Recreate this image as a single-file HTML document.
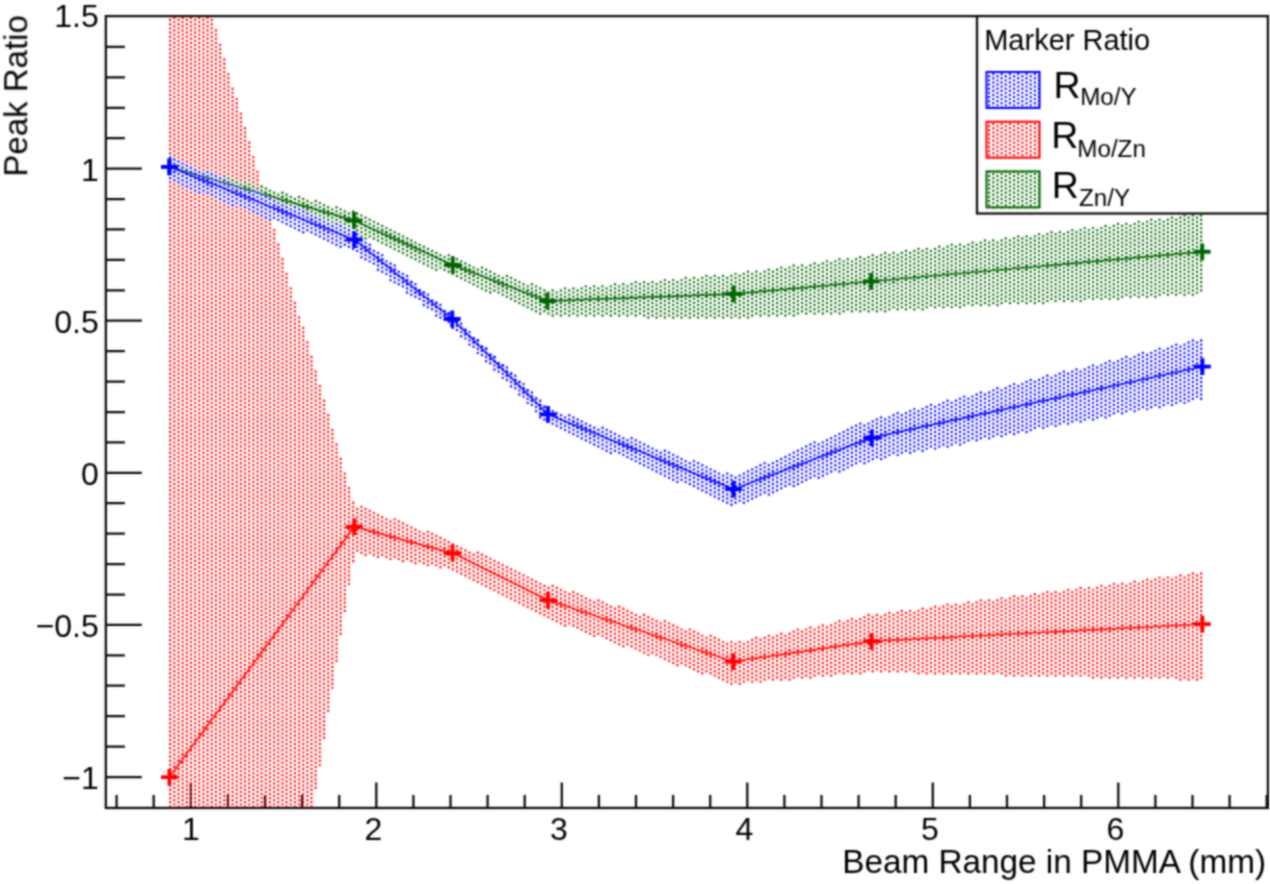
<!DOCTYPE html>
<html><head><meta charset="utf-8"><title>Peak Ratio vs Beam Range in PMMA</title>
<style>
html,body{margin:0;padding:0;background:#fff;}
svg{display:block;font-family:"Liberation Sans",Arial,Helvetica,sans-serif;}
</style></head><body>
<svg width="1270" height="884" viewBox="0 0 1270 884">
<defs>
<clipPath id="clip"><rect x="104.85" y="15.100000000000001" width="1164.0500000000002" height="793.85"/></clipPath>
<filter id="soft" filterUnits="userSpaceOnUse" x="0" y="0" width="1270" height="884" color-interpolation-filters="sRGB"><feConvolveMatrix order="5" kernelMatrix="0.00107 0.00777 0.01504 0.00777 0.00107 0.00777 0.05638 0.10914 0.05638 0.00777 0.01504 0.10914 0.21130 0.10914 0.01504 0.00777 0.05638 0.10914 0.05638 0.00777 0.00107 0.00777 0.01504 0.00777 0.00107" edgeMode="duplicate" preserveAlpha="false"/></filter>
</defs>
<rect width="1270" height="884" fill="#fff"/>
<g filter="url(#soft)">
<g stroke="#0a0a0a" stroke-width="2.25" fill="none">
<rect x="105.85" y="16.1" width="1162.0500000000002" height="791.85"/>
<path d="M116.6,807.95v-13M153.7,807.95v-13M190.8,807.95v-25.5M227.9,807.95v-13M265.0,807.95v-13M302.1,807.95v-13M339.2,807.95v-13M376.3,807.95v-25.5M413.4,807.95v-13M450.5,807.95v-13M487.6,807.95v-13M524.7,807.95v-13M561.8,807.95v-25.5M598.9,807.95v-13M636.0,807.95v-13M673.1,807.95v-13M710.2,807.95v-13M747.3,807.95v-25.5M784.4,807.95v-13M821.5,807.95v-13M858.6,807.95v-13M895.7,807.95v-13M932.8,807.95v-25.5M969.9,807.95v-13M1007.0,807.95v-13M1044.1,807.95v-13M1081.2,807.95v-13M1118.3,807.95v-25.5M1155.4,807.95v-13M1192.5,807.95v-13M1229.6,807.95v-13M1266.7,807.95v-13"/><path d="M105.85,777.0h36M105.85,746.6h19M105.85,716.2h19M105.85,685.7h19M105.85,655.3h19M105.85,624.9h36M105.85,594.5h19M105.85,564.1h19M105.85,533.6h19M105.85,503.2h19M105.85,472.8h36M105.85,442.4h19M105.85,412.0h19M105.85,381.5h19M105.85,351.1h19M105.85,320.7h36M105.85,290.3h19M105.85,259.9h19M105.85,229.4h19M105.85,199.0h19M105.85,168.6h36M105.85,138.2h19M105.85,107.8h19M105.85,77.3h19M105.85,46.9h19"/></g>
<g clip-path="url(#clip)">
<path d="M170.18,20.04v786.43M174.34,17.96v786.43M178.50,20.04v786.43M182.65,17.96v786.43M186.81,20.04v786.43M190.97,17.96v786.43M195.13,20.04v786.43M199.28,17.96v786.43M203.44,20.04v786.43M207.60,17.96v786.43M211.75,20.04v786.43M215.91,30.44v773.95M220.07,45.00v761.46M224.23,59.57v744.82M228.38,74.13v732.34M232.54,88.69v715.69M236.70,99.09v707.37M240.85,113.66v690.73M245.01,128.22v678.25M249.17,142.78v661.60M253.33,157.35v649.12M257.48,171.91v632.48M261.64,186.47v619.99M265.80,201.04v603.35M269.95,215.60v590.87M274.11,230.16v574.22M278.27,244.73v561.74M282.42,259.29v545.10M286.58,273.85v532.62M290.74,288.42v515.97M294.90,302.98v503.49M299.05,317.54v486.85M303.21,327.94v478.52M307.37,342.51v461.88M311.52,357.07v449.40M315.68,371.63v416.11M319.84,386.20v378.66M324.00,400.76v337.05M328.15,415.32v295.44M332.31,429.89v258.00M336.47,444.45v216.39M340.62,459.01v174.78M344.78,473.58v137.33M348.94,488.14v95.72M353.10,502.70v58.27M357.25,508.94v41.63M361.41,506.86v45.79M365.57,508.94v45.79M369.72,511.02v41.63M373.88,513.10v41.63M378.04,515.18v41.63M382.20,517.26v37.47M386.35,519.35v37.47M390.51,521.43v37.47M394.67,519.35v37.47M398.82,521.43v37.47M402.98,523.51v37.47M407.14,525.59v33.31M411.30,527.67v33.31M415.45,529.75v33.31M419.61,531.83v29.15M423.77,533.91v29.15M427.92,531.83v33.31M432.08,533.91v29.15M436.24,535.99v29.15M440.39,538.07v29.15M444.55,540.15v24.99M448.71,542.23v24.99M452.87,544.31v24.99M457.02,546.39v24.99M461.18,548.47v24.99M465.34,550.55v24.99M469.49,552.63v24.99M473.65,554.71v24.99M477.81,552.63v29.15M481.97,554.71v29.15M486.12,556.79v29.15M490.28,558.87v29.15M494.44,560.95v29.15M498.59,563.03v29.15M502.75,565.12v29.15M506.91,567.20v29.15M511.07,569.28v29.15M515.22,571.36v29.15M519.38,573.44v29.15M523.54,575.52v29.15M527.69,577.60v29.15M531.85,579.68v29.15M536.01,581.76v29.15M540.17,583.84v29.15M544.32,585.92v29.15M548.48,588.00v29.15M552.64,585.92v33.31M556.79,588.00v33.31M560.95,590.08v33.31M565.11,592.16v33.31M569.26,594.24v29.15M573.42,592.16v33.31M577.58,594.24v33.31M581.74,596.32v33.31M585.89,598.40v33.31M590.05,600.48v33.31M594.21,602.56v33.31M598.36,600.48v33.31M602.52,602.56v33.31M606.68,604.64v33.31M610.84,606.72v33.31M614.99,608.80v33.31M619.15,606.72v37.47M623.31,608.80v37.47M627.46,610.88v33.31M631.62,612.97v33.31M635.78,615.05v33.31M639.94,617.13v33.31M644.09,615.05v37.47M648.25,617.13v37.47M652.41,619.21v33.31M656.56,621.29v33.31M660.72,623.37v33.31M664.88,621.29v37.47M669.04,623.37v37.47M673.19,625.45v37.47M677.35,627.53v37.47M681.51,629.61v33.31M685.66,631.69v33.31M689.82,629.61v37.47M693.98,631.69v37.47M698.13,633.77v37.47M702.29,635.85v37.47M706.45,637.93v33.31M710.61,635.85v37.47M714.76,637.93v37.47M718.92,640.01v37.47M723.08,642.09v37.47M727.23,644.17v37.47M731.39,642.09v41.63M735.55,644.17v37.47M739.71,642.09v41.63M743.86,644.17v37.47M748.02,642.09v37.47M752.18,640.01v41.63M756.33,637.93v41.63M760.49,640.01v41.63M764.65,637.93v41.63M768.81,635.85v41.63M772.96,637.93v41.63M777.12,635.85v41.63M781.28,633.77v45.79M785.43,635.85v41.63M789.59,633.77v45.79M793.75,631.69v45.79M797.91,629.61v45.79M802.06,631.69v45.79M806.22,629.61v45.79M810.38,627.53v49.95M814.53,629.61v45.79M818.69,627.53v45.79M822.85,625.45v49.95M827.00,627.53v45.79M831.16,625.45v49.95M835.32,623.37v49.95M839.48,621.29v49.95M843.63,623.37v49.95M847.79,621.29v49.95M851.95,619.21v54.11M856.10,621.29v49.95M860.26,619.21v54.11M864.42,617.13v54.11M868.58,615.05v54.11M872.73,617.13v54.11M876.89,615.05v54.11M881.05,617.13v54.11M885.20,615.05v54.11M889.36,612.97v58.27M893.52,615.05v54.11M897.68,612.97v58.27M901.83,610.88v58.27M905.99,612.97v58.27M910.15,610.88v58.27M914.30,612.97v58.27M918.46,610.88v62.43M922.62,608.80v62.43M926.78,610.88v62.43M930.93,608.80v62.43M935.09,606.72v66.59M939.25,608.80v62.43M943.40,606.72v66.59M947.56,604.64v66.59M951.72,606.72v66.59M955.88,604.64v66.59M960.03,606.72v66.59M964.19,604.64v66.59M968.35,602.56v70.76M972.50,604.64v66.59M976.66,602.56v70.76M980.82,600.48v70.76M984.97,602.56v70.76M989.13,600.48v70.76M993.29,602.56v70.76M997.45,600.48v70.76M1001.60,598.40v74.92M1005.76,600.48v74.92M1009.92,598.40v74.92M1014.07,596.32v79.08M1018.23,598.40v74.92M1022.39,596.32v79.08M1026.55,598.40v74.92M1030.70,596.32v79.08M1034.86,594.24v79.08M1039.02,596.32v79.08M1043.17,594.24v79.08M1047.33,592.16v83.24M1051.49,594.24v79.08M1055.65,592.16v83.24M1059.80,594.24v79.08M1063.96,592.16v83.24M1068.12,590.08v83.24M1072.27,592.16v83.24M1076.43,590.08v83.24M1080.59,588.00v87.40M1084.75,590.08v83.24M1088.90,588.00v87.40M1093.06,590.08v87.40M1097.22,588.00v87.40M1101.37,585.92v91.56M1105.53,588.00v87.40M1109.69,585.92v91.56M1113.84,583.84v91.56M1118.00,585.92v91.56M1122.16,583.84v91.56M1126.32,585.92v91.56M1130.47,583.84v91.56M1134.63,581.76v95.72M1138.79,583.84v91.56M1142.94,581.76v95.72M1147.10,579.68v95.72M1151.26,581.76v95.72M1155.42,579.68v95.72M1159.57,577.60v99.88M1163.73,579.68v95.72M1167.89,577.60v99.88M1172.04,579.68v95.72M1176.20,577.60v99.88M1180.36,575.52v104.04M1184.52,577.60v99.88M1188.67,575.52v104.04M1192.83,573.44v104.04M1196.99,575.52v104.04M1201.14,573.44v104.04" fill="none" stroke="#ff0000" stroke-width="2.4" stroke-linecap="round" stroke-dasharray="0 4.1609"/>
<path d="M170.18,773.16v4.18M174.34,766.92v8.34M178.50,760.68v8.34M182.65,754.44v8.34M186.81,752.36v4.18M190.97,746.11v4.18M195.13,739.87v4.18M199.28,733.63v4.18M203.44,727.39v8.34M207.60,721.15v8.34M211.75,714.91v8.34M215.91,712.83v4.18M220.07,706.59v4.18M224.23,700.34v4.18M228.38,694.10v4.18M232.54,687.86v8.34M236.70,681.62v8.34M240.85,679.54v4.18M245.01,673.30v4.18M249.17,667.06v4.18M253.33,660.82v4.18M257.48,654.57v4.18M261.64,648.33v8.34M265.80,642.09v8.34M269.95,640.01v4.18M274.11,633.77v4.18M278.27,627.53v4.18M282.42,621.29v4.18M286.58,615.05v4.18M290.74,608.80v8.34M294.90,602.56v8.34M299.05,600.48v4.18M303.21,594.24v4.18M307.37,588.00v4.18M311.52,581.76v4.18M315.68,575.52v8.34M319.84,569.28v8.34M324.00,563.03v8.34M328.15,560.95v4.18M332.31,554.71v4.18M336.47,548.47v4.18M340.62,542.23v4.18M344.78,535.99v8.34M348.94,529.75v8.34M353.10,523.51v8.34M357.25,525.59v4.18M361.41,527.67v0.02M365.57,529.75v0.02M369.72,531.83v0.02M373.88,529.75v4.18M378.04,531.83v4.18M382.20,533.91v0.02M386.35,535.99v0.02M390.51,533.91v4.18M394.67,535.99v4.18M398.82,538.07v0.02M402.98,540.15v0.02M407.14,538.07v4.18M411.30,540.15v4.18M415.45,542.23v0.02M419.61,544.31v0.02M423.77,546.39v0.02M427.92,544.31v4.18M432.08,546.39v4.18M436.24,548.47v0.02M440.39,550.55v0.02M444.55,548.47v4.18M448.71,550.55v4.18M452.87,552.63v0.02M457.02,554.71v0.02M461.18,556.79v0.02M465.34,558.87v0.02M469.49,560.95v0.02M473.65,563.03v0.02M477.81,565.12v0.02M481.97,567.20v0.02M486.12,569.28v0.02M490.28,571.36v0.02M494.44,573.44v0.02M498.59,575.52v0.02M502.75,577.60v0.02M506.91,579.68v0.02M511.07,581.76v0.02M515.22,583.84v0.02M519.38,585.92v0.02M523.54,588.00v0.02M527.69,590.08v0.02M531.85,592.16v0.02M536.01,594.24v0.02M540.17,596.32v0.02M544.32,598.40v0.02M548.48,600.48v0.02M552.64,602.56v0.02M556.79,600.48v4.18M560.95,602.56v4.18M565.11,604.64v4.18M569.26,606.72v0.02M573.42,608.80v0.02M577.58,610.88v0.02M581.74,608.80v4.18M585.89,610.88v4.18M590.05,612.97v0.02M594.21,615.05v0.02M598.36,617.13v0.02M602.52,619.21v0.02M606.68,617.13v4.18M610.84,619.21v4.18M614.99,621.29v0.02M619.15,623.37v0.02M623.31,625.45v0.02M627.46,627.53v0.02M631.62,625.45v4.18M635.78,627.53v4.18M639.94,629.61v0.02M644.09,631.69v0.02M648.25,633.77v0.02M652.41,635.85v0.02M656.56,633.77v4.18M660.72,635.85v4.18M664.88,637.93v0.02M669.04,640.01v0.02M673.19,642.09v0.02M677.35,640.01v4.18M681.51,642.09v4.18M685.66,644.17v4.18M689.82,646.25v0.02M693.98,648.33v0.02M698.13,650.41v0.02M702.29,648.33v4.18M706.45,650.41v4.18M710.61,652.49v4.18M714.76,654.57v0.02M718.92,656.65v0.02M723.08,658.74v0.02M727.23,656.65v4.18M731.39,658.74v4.18M735.55,660.82v0.02M739.71,658.74v4.18M743.86,660.82v0.02M748.02,658.74v0.02M752.18,656.65v4.18M756.33,658.74v0.02M760.49,656.65v0.02M764.65,654.57v4.18M768.81,656.65v0.02M772.96,654.57v0.02M777.12,652.49v4.18M781.28,654.57v0.02M785.43,652.49v4.18M789.59,650.41v4.18M793.75,652.49v0.02M797.91,650.41v4.18M802.06,652.49v0.02M806.22,650.41v0.02M810.38,648.33v4.18M814.53,650.41v0.02M818.69,648.33v0.02M822.85,646.25v4.18M827.00,648.33v0.02M831.16,646.25v0.02M835.32,644.17v4.18M839.48,646.25v0.02M843.63,644.17v0.02M847.79,642.09v4.18M851.95,644.17v0.02M856.10,642.09v4.18M860.26,644.17v0.02M864.42,642.09v0.02M868.58,640.01v4.18M872.73,642.09v0.02M876.89,640.01v0.02M881.05,637.93v4.18M885.20,640.01v0.02M889.36,637.93v4.18M893.52,640.01v0.02M897.68,637.93v4.18M901.83,640.01v0.02M905.99,637.93v4.18M910.15,640.01v0.02M914.30,637.93v0.02M918.46,640.01v0.02M922.62,637.93v0.02M926.78,635.85v4.18M930.93,637.93v0.02M935.09,635.85v4.18M939.25,637.93v0.02M943.40,635.85v4.18M947.56,637.93v0.02M951.72,635.85v4.18M955.88,637.93v0.02M960.03,635.85v0.02M964.19,633.77v4.18M968.35,635.85v0.02M972.50,633.77v4.18M976.66,635.85v0.02M980.82,633.77v4.18M984.97,635.85v0.02M989.13,633.77v4.18M993.29,635.85v0.02M997.45,633.77v0.02M1001.60,631.69v4.18M1005.76,633.77v0.02M1009.92,631.69v4.18M1014.07,633.77v0.02M1018.23,631.69v4.18M1022.39,633.77v0.02M1026.55,631.69v4.18M1030.70,633.77v0.02M1034.86,631.69v0.02M1039.02,633.77v0.02M1043.17,631.69v0.02M1047.33,629.61v4.18M1051.49,631.69v0.02M1055.65,629.61v4.18M1059.80,631.69v0.02M1063.96,629.61v4.18M1068.12,631.69v0.02M1072.27,629.61v0.02M1076.43,631.69v0.02M1080.59,629.61v0.02M1084.75,627.53v4.18M1088.90,629.61v0.02M1093.06,627.53v4.18M1097.22,629.61v0.02M1101.37,627.53v4.18M1105.53,629.61v0.02M1109.69,627.53v4.18M1113.84,629.61v0.02M1118.00,627.53v0.02M1122.16,625.45v4.18M1126.32,627.53v0.02M1130.47,625.45v4.18M1134.63,627.53v0.02M1138.79,625.45v4.18M1142.94,627.53v0.02M1147.10,625.45v4.18M1151.26,627.53v0.02M1155.42,625.45v0.02M1159.57,627.53v0.02M1163.73,625.45v0.02M1167.89,623.37v4.18M1172.04,625.45v0.02M1176.20,623.37v4.18M1180.36,625.45v0.02M1184.52,623.37v4.18M1188.67,625.45v0.02M1192.83,623.37v0.02M1196.99,625.45v0.02M1201.14,623.37v0.02" fill="none" stroke="#ff0000" stroke-width="2.8" stroke-linecap="round" stroke-dasharray="0 4.1609"/>
<polyline points="169.4,777.1 354.3,526.7 452.6,553.2 548.0,600.1 733.2,661.6 871.6,641.3 1202.4,624.1" fill="none" stroke="#ff0000" stroke-width="1.45"/>
<path d="M170.18,161.51v12.50M174.34,163.59v12.50M178.50,165.67v12.50M182.65,167.75v12.50M186.81,169.83v8.34M190.97,167.75v12.50M195.13,169.83v12.50M199.28,171.91v12.50M203.44,173.99v12.50M207.60,171.91v16.66M211.75,173.99v12.50M215.91,176.07v12.50M220.07,178.15v12.50M224.23,176.07v16.66M228.38,178.15v16.66M232.54,180.23v12.50M236.70,182.31v12.50M240.85,184.39v12.50M245.01,182.31v16.66M249.17,184.39v16.66M253.33,186.47v12.50M257.48,188.55v12.50M261.64,186.47v16.66M265.80,188.55v16.66M269.95,190.63v16.66M274.11,192.71v12.50M278.27,194.79v12.50M282.42,192.71v16.66M286.58,194.79v16.66M290.74,196.88v16.66M294.90,198.96v12.50M299.05,196.88v16.66M303.21,198.96v16.66M307.37,201.04v16.66M311.52,203.12v16.66M315.68,201.04v16.66M319.84,203.12v16.66M324.00,205.20v16.66M328.15,207.28v16.66M332.31,209.36v16.66M336.47,207.28v20.82M340.62,209.36v16.66M344.78,211.44v16.66M348.94,213.52v16.66M353.10,211.44v20.82M357.25,213.52v20.82M361.41,215.60v20.82M365.57,217.68v20.82M369.72,219.76v16.66M373.88,221.84v16.66M378.04,223.92v16.66M382.20,226.00v16.66M386.35,228.08v16.66M390.51,230.16v16.66M394.67,232.24v16.66M398.82,234.32v16.66M402.98,236.40v16.66M407.14,238.48v16.66M411.30,240.56v16.66M415.45,242.65v16.66M419.61,244.73v16.66M423.77,246.81v16.66M427.92,248.89v16.66M432.08,250.97v16.66M436.24,253.05v16.66M440.39,255.13v12.50M444.55,257.21v12.50M448.71,255.13v16.66M452.87,257.21v16.66M457.02,259.29v16.66M461.18,261.37v16.66M465.34,263.45v16.66M469.49,265.53v16.66M473.65,267.61v16.66M477.81,269.69v16.66M481.97,267.61v20.82M486.12,269.69v20.82M490.28,271.77v20.82M494.44,273.85v16.66M498.59,275.93v16.66M502.75,278.01v16.66M506.91,275.93v20.82M511.07,278.01v20.82M515.22,280.09v20.82M519.38,282.17v20.82M523.54,284.25v20.82M527.69,286.33v20.82M531.85,284.25v24.99M536.01,286.33v24.99M540.17,288.42v24.99M544.32,290.50v20.82M548.48,292.58v20.82M552.64,290.50v24.99M556.79,292.58v20.82M560.95,290.50v24.99M565.11,288.42v24.99M569.26,290.50v24.99M573.42,288.42v24.99M577.58,290.50v24.99M581.74,288.42v24.99M585.89,286.33v29.15M590.05,288.42v24.99M594.21,286.33v29.15M598.36,288.42v24.99M602.52,286.33v29.15M606.68,288.42v24.99M610.84,286.33v29.15M614.99,284.25v29.15M619.15,286.33v29.15M623.31,284.25v29.15M627.46,286.33v29.15M631.62,284.25v29.15M635.78,282.17v33.31M639.94,284.25v29.15M644.09,282.17v33.31M648.25,284.25v33.31M652.41,282.17v33.31M656.56,284.25v33.31M660.72,282.17v33.31M664.88,280.09v37.47M669.04,282.17v33.31M673.19,280.09v37.47M677.35,282.17v33.31M681.51,280.09v37.47M685.66,278.01v37.47M689.82,280.09v37.47M693.98,278.01v37.47M698.13,280.09v37.47M702.29,278.01v37.47M706.45,275.93v41.63M710.61,278.01v37.47M714.76,275.93v41.63M718.92,278.01v37.47M723.08,275.93v41.63M727.23,278.01v37.47M731.39,275.93v41.63M735.55,273.85v41.63M739.71,275.93v41.63M743.86,273.85v41.63M748.02,271.77v45.79M752.18,273.85v41.63M756.33,271.77v41.63M760.49,273.85v41.63M764.65,271.77v41.63M768.81,269.69v45.79M772.96,271.77v41.63M777.12,269.69v45.79M781.28,267.61v45.79M785.43,269.69v45.79M789.59,267.61v45.79M793.75,265.53v49.95M797.91,267.61v45.79M802.06,265.53v45.79M806.22,267.61v45.79M810.38,265.53v45.79M814.53,263.45v49.95M818.69,265.53v45.79M822.85,263.45v49.95M827.00,261.37v49.95M831.16,263.45v49.95M835.32,261.37v49.95M839.48,259.29v54.11M843.63,261.37v49.95M847.79,259.29v49.95M851.95,261.37v49.95M856.10,259.29v49.95M860.26,257.21v54.11M864.42,259.29v49.95M868.58,257.21v54.11M872.73,255.13v54.11M876.89,257.21v54.11M881.05,255.13v54.11M885.20,253.05v58.27M889.36,255.13v54.11M893.52,253.05v54.11M897.68,255.13v54.11M901.83,253.05v54.11M905.99,250.97v58.27M910.15,253.05v54.11M914.30,250.97v58.27M918.46,248.89v58.27M922.62,250.97v58.27M926.78,248.89v58.27M930.93,250.97v54.11M935.09,248.89v58.27M939.25,246.81v58.27M943.40,248.89v58.27M947.56,246.81v58.27M951.72,244.73v62.43M955.88,246.81v58.27M960.03,244.73v62.43M964.19,246.81v58.27M968.35,244.73v58.27M972.50,242.65v62.43M976.66,244.73v58.27M980.82,242.65v62.43M984.97,240.56v62.43M989.13,242.65v62.43M993.29,240.56v62.43M997.45,242.65v62.43M1001.60,240.56v62.43M1005.76,238.48v62.43M1009.92,240.56v62.43M1014.07,238.48v62.43M1018.23,236.40v66.59M1022.39,238.48v62.43M1026.55,236.40v66.59M1030.70,238.48v62.43M1034.86,236.40v66.59M1039.02,234.32v66.59M1043.17,236.40v66.59M1047.33,234.32v66.59M1051.49,232.24v66.59M1055.65,234.32v66.59M1059.80,232.24v66.59M1063.96,234.32v66.59M1068.12,232.24v66.59M1072.27,230.16v70.76M1076.43,232.24v66.59M1080.59,230.16v70.76M1084.75,228.08v70.76M1088.90,230.16v66.59M1093.06,228.08v70.76M1097.22,230.16v66.59M1101.37,228.08v70.76M1105.53,226.00v70.76M1109.69,228.08v70.76M1113.84,226.00v70.76M1118.00,223.92v74.92M1122.16,226.00v70.76M1126.32,223.92v70.76M1130.47,226.00v70.76M1134.63,223.92v70.76M1138.79,221.84v74.92M1142.94,223.92v70.76M1147.10,221.84v74.92M1151.26,219.76v74.92M1155.42,221.84v74.92M1159.57,219.76v74.92M1163.73,221.84v70.76M1167.89,219.76v74.92M1172.04,217.68v74.92M1176.20,219.76v74.92M1180.36,217.68v74.92M1184.52,215.60v79.08M1188.67,217.68v74.92M1192.83,215.60v79.08M1196.99,217.68v74.92M1201.14,215.60v74.92" fill="none" stroke="#fff" stroke-width="2.9" stroke-linecap="round" stroke-dasharray="0 4.1609"/>
<path d="M170.18,161.51v12.50M174.34,163.59v12.50M178.50,165.67v12.50M182.65,167.75v12.50M186.81,169.83v8.34M190.97,167.75v12.50M195.13,169.83v12.50M199.28,171.91v12.50M203.44,173.99v12.50M207.60,171.91v16.66M211.75,173.99v12.50M215.91,176.07v12.50M220.07,178.15v12.50M224.23,176.07v16.66M228.38,178.15v16.66M232.54,180.23v12.50M236.70,182.31v12.50M240.85,184.39v12.50M245.01,182.31v16.66M249.17,184.39v16.66M253.33,186.47v12.50M257.48,188.55v12.50M261.64,186.47v16.66M265.80,188.55v16.66M269.95,190.63v16.66M274.11,192.71v12.50M278.27,194.79v12.50M282.42,192.71v16.66M286.58,194.79v16.66M290.74,196.88v16.66M294.90,198.96v12.50M299.05,196.88v16.66M303.21,198.96v16.66M307.37,201.04v16.66M311.52,203.12v16.66M315.68,201.04v16.66M319.84,203.12v16.66M324.00,205.20v16.66M328.15,207.28v16.66M332.31,209.36v16.66M336.47,207.28v20.82M340.62,209.36v16.66M344.78,211.44v16.66M348.94,213.52v16.66M353.10,211.44v20.82M357.25,213.52v20.82M361.41,215.60v20.82M365.57,217.68v20.82M369.72,219.76v16.66M373.88,221.84v16.66M378.04,223.92v16.66M382.20,226.00v16.66M386.35,228.08v16.66M390.51,230.16v16.66M394.67,232.24v16.66M398.82,234.32v16.66M402.98,236.40v16.66M407.14,238.48v16.66M411.30,240.56v16.66M415.45,242.65v16.66M419.61,244.73v16.66M423.77,246.81v16.66M427.92,248.89v16.66M432.08,250.97v16.66M436.24,253.05v16.66M440.39,255.13v12.50M444.55,257.21v12.50M448.71,255.13v16.66M452.87,257.21v16.66M457.02,259.29v16.66M461.18,261.37v16.66M465.34,263.45v16.66M469.49,265.53v16.66M473.65,267.61v16.66M477.81,269.69v16.66M481.97,267.61v20.82M486.12,269.69v20.82M490.28,271.77v20.82M494.44,273.85v16.66M498.59,275.93v16.66M502.75,278.01v16.66M506.91,275.93v20.82M511.07,278.01v20.82M515.22,280.09v20.82M519.38,282.17v20.82M523.54,284.25v20.82M527.69,286.33v20.82M531.85,284.25v24.99M536.01,286.33v24.99M540.17,288.42v24.99M544.32,290.50v20.82M548.48,292.58v20.82M552.64,290.50v24.99M556.79,292.58v20.82M560.95,290.50v24.99M565.11,288.42v24.99M569.26,290.50v24.99M573.42,288.42v24.99M577.58,290.50v24.99M581.74,288.42v24.99M585.89,286.33v29.15M590.05,288.42v24.99M594.21,286.33v29.15M598.36,288.42v24.99M602.52,286.33v29.15M606.68,288.42v24.99M610.84,286.33v29.15M614.99,284.25v29.15M619.15,286.33v29.15M623.31,284.25v29.15M627.46,286.33v29.15M631.62,284.25v29.15M635.78,282.17v33.31M639.94,284.25v29.15M644.09,282.17v33.31M648.25,284.25v33.31M652.41,282.17v33.31M656.56,284.25v33.31M660.72,282.17v33.31M664.88,280.09v37.47M669.04,282.17v33.31M673.19,280.09v37.47M677.35,282.17v33.31M681.51,280.09v37.47M685.66,278.01v37.47M689.82,280.09v37.47M693.98,278.01v37.47M698.13,280.09v37.47M702.29,278.01v37.47M706.45,275.93v41.63M710.61,278.01v37.47M714.76,275.93v41.63M718.92,278.01v37.47M723.08,275.93v41.63M727.23,278.01v37.47M731.39,275.93v41.63M735.55,273.85v41.63M739.71,275.93v41.63M743.86,273.85v41.63M748.02,271.77v45.79M752.18,273.85v41.63M756.33,271.77v41.63M760.49,273.85v41.63M764.65,271.77v41.63M768.81,269.69v45.79M772.96,271.77v41.63M777.12,269.69v45.79M781.28,267.61v45.79M785.43,269.69v45.79M789.59,267.61v45.79M793.75,265.53v49.95M797.91,267.61v45.79M802.06,265.53v45.79M806.22,267.61v45.79M810.38,265.53v45.79M814.53,263.45v49.95M818.69,265.53v45.79M822.85,263.45v49.95M827.00,261.37v49.95M831.16,263.45v49.95M835.32,261.37v49.95M839.48,259.29v54.11M843.63,261.37v49.95M847.79,259.29v49.95M851.95,261.37v49.95M856.10,259.29v49.95M860.26,257.21v54.11M864.42,259.29v49.95M868.58,257.21v54.11M872.73,255.13v54.11M876.89,257.21v54.11M881.05,255.13v54.11M885.20,253.05v58.27M889.36,255.13v54.11M893.52,253.05v54.11M897.68,255.13v54.11M901.83,253.05v54.11M905.99,250.97v58.27M910.15,253.05v54.11M914.30,250.97v58.27M918.46,248.89v58.27M922.62,250.97v58.27M926.78,248.89v58.27M930.93,250.97v54.11M935.09,248.89v58.27M939.25,246.81v58.27M943.40,248.89v58.27M947.56,246.81v58.27M951.72,244.73v62.43M955.88,246.81v58.27M960.03,244.73v62.43M964.19,246.81v58.27M968.35,244.73v58.27M972.50,242.65v62.43M976.66,244.73v58.27M980.82,242.65v62.43M984.97,240.56v62.43M989.13,242.65v62.43M993.29,240.56v62.43M997.45,242.65v62.43M1001.60,240.56v62.43M1005.76,238.48v62.43M1009.92,240.56v62.43M1014.07,238.48v62.43M1018.23,236.40v66.59M1022.39,238.48v62.43M1026.55,236.40v66.59M1030.70,238.48v62.43M1034.86,236.40v66.59M1039.02,234.32v66.59M1043.17,236.40v66.59M1047.33,234.32v66.59M1051.49,232.24v66.59M1055.65,234.32v66.59M1059.80,232.24v66.59M1063.96,234.32v66.59M1068.12,232.24v66.59M1072.27,230.16v70.76M1076.43,232.24v66.59M1080.59,230.16v70.76M1084.75,228.08v70.76M1088.90,230.16v66.59M1093.06,228.08v70.76M1097.22,230.16v66.59M1101.37,228.08v70.76M1105.53,226.00v70.76M1109.69,228.08v70.76M1113.84,226.00v70.76M1118.00,223.92v74.92M1122.16,226.00v70.76M1126.32,223.92v70.76M1130.47,226.00v70.76M1134.63,223.92v70.76M1138.79,221.84v74.92M1142.94,223.92v70.76M1147.10,221.84v74.92M1151.26,219.76v74.92M1155.42,221.84v74.92M1159.57,219.76v74.92M1163.73,221.84v70.76M1167.89,219.76v74.92M1172.04,217.68v74.92M1176.20,219.76v74.92M1180.36,217.68v74.92M1184.52,215.60v79.08M1188.67,217.68v74.92M1192.83,215.60v79.08M1196.99,217.68v74.92M1201.14,215.60v74.92" fill="none" stroke="#006400" stroke-width="2.4" stroke-linecap="round" stroke-dasharray="0 4.1609"/>
<path d="M170.18,165.67v4.18M174.34,167.75v0.02M178.50,169.83v0.02M182.65,167.75v4.18M186.81,169.83v4.18M190.97,171.91v4.18M195.13,173.99v0.02M199.28,176.07v0.02M203.44,173.99v4.18M207.60,176.07v4.18M211.75,178.15v0.02M215.91,180.23v0.02M220.07,182.31v0.02M224.23,180.23v4.18M228.38,182.31v4.18M232.54,184.39v0.02M236.70,186.47v0.02M240.85,188.55v0.02M245.01,186.47v4.18M249.17,188.55v4.18M253.33,190.63v0.02M257.48,192.71v0.02M261.64,194.79v0.02M265.80,192.71v4.18M269.95,194.79v4.18M274.11,196.88v0.02M278.27,198.96v0.02M282.42,196.88v4.18M286.58,198.96v4.18M290.74,201.04v0.02M294.90,203.12v0.02M299.05,205.20v0.02M303.21,203.12v4.18M307.37,205.20v4.18M311.52,207.28v0.02M315.68,209.36v0.02M319.84,211.44v0.02M324.00,209.36v4.18M328.15,211.44v4.18M332.31,213.52v0.02M336.47,215.60v0.02M340.62,217.68v0.02M344.78,215.60v4.18M348.94,217.68v4.18M353.10,219.76v0.02M357.25,221.84v0.02M361.41,223.92v0.02M365.57,226.00v0.02M369.72,228.08v0.02M373.88,230.16v0.02M378.04,232.24v0.02M382.20,230.16v4.18M386.35,232.24v4.18M390.51,234.32v4.18M394.67,236.40v4.18M398.82,238.48v4.18M402.98,240.56v4.18M407.14,242.65v4.18M411.30,244.73v4.18M415.45,246.81v4.18M419.61,248.89v4.18M423.77,250.97v0.02M427.92,253.05v0.02M432.08,255.13v0.02M436.24,257.21v0.02M440.39,259.29v0.02M444.55,261.37v0.02M448.71,263.45v0.02M452.87,265.53v0.02M457.02,267.61v0.02M461.18,265.53v4.18M465.34,267.61v4.18M469.49,269.69v4.18M473.65,271.77v4.18M477.81,273.85v0.02M481.97,275.93v0.02M486.12,278.01v0.02M490.28,280.09v0.02M494.44,278.01v4.18M498.59,280.09v4.18M502.75,282.17v4.18M506.91,284.25v4.18M511.07,286.33v0.02M515.22,288.42v0.02M519.38,290.50v0.02M523.54,292.58v0.02M527.69,290.50v4.18M531.85,292.58v4.18M536.01,294.66v4.18M540.17,296.74v4.18M544.32,298.82v0.02M548.48,300.90v0.02M552.64,298.82v4.18M556.79,300.90v0.02M560.95,298.82v4.18M565.11,300.90v0.02M569.26,298.82v4.18M573.42,300.90v0.02M577.58,298.82v0.02M581.74,300.90v0.02M585.89,298.82v0.02M590.05,296.74v4.18M594.21,298.82v0.02M598.36,296.74v4.18M602.52,298.82v0.02M606.68,296.74v4.18M610.84,298.82v0.02M614.99,296.74v4.18M619.15,298.82v0.02M623.31,296.74v4.18M627.46,298.82v0.02M631.62,296.74v0.02M635.78,298.82v0.02M639.94,296.74v0.02M644.09,294.66v4.18M648.25,296.74v0.02M652.41,294.66v4.18M656.56,296.74v0.02M660.72,294.66v4.18M664.88,296.74v0.02M669.04,294.66v4.18M673.19,296.74v0.02M677.35,294.66v4.18M681.51,296.74v0.02M685.66,294.66v0.02M689.82,296.74v0.02M693.98,294.66v0.02M698.13,292.58v4.18M702.29,294.66v0.02M706.45,292.58v4.18M710.61,294.66v0.02M714.76,292.58v4.18M718.92,294.66v0.02M723.08,292.58v4.18M727.23,294.66v0.02M731.39,292.58v4.18M735.55,294.66v0.02M739.71,292.58v0.02M743.86,290.50v4.18M748.02,292.58v0.02M752.18,290.50v4.18M756.33,292.58v0.02M760.49,290.50v0.02M764.65,288.42v4.18M768.81,290.50v0.02M772.96,288.42v4.18M777.12,290.50v0.02M781.28,288.42v0.02M785.43,290.50v0.02M789.59,288.42v0.02M793.75,286.33v4.18M797.91,288.42v0.02M802.06,286.33v4.18M806.22,288.42v0.02M810.38,286.33v0.02M814.53,284.25v4.18M818.69,286.33v0.02M822.85,284.25v4.18M827.00,286.33v0.02M831.16,284.25v0.02M835.32,282.17v4.18M839.48,284.25v0.02M843.63,282.17v4.18M847.79,284.25v0.02M851.95,282.17v0.02M856.10,280.09v4.18M860.26,282.17v0.02M864.42,280.09v4.18M868.58,282.17v0.02M872.73,280.09v0.02M876.89,278.01v4.18M881.05,280.09v0.02M885.20,278.01v4.18M889.36,280.09v0.02M893.52,278.01v4.18M897.68,280.09v0.02M901.83,278.01v0.02M905.99,275.93v4.18M910.15,278.01v0.02M914.30,275.93v4.18M918.46,278.01v0.02M922.62,275.93v0.02M926.78,273.85v4.18M930.93,275.93v0.02M935.09,273.85v4.18M939.25,275.93v0.02M943.40,273.85v0.02M947.56,271.77v4.18M951.72,273.85v0.02M955.88,271.77v4.18M960.03,273.85v0.02M964.19,271.77v4.18M968.35,273.85v0.02M972.50,271.77v0.02M976.66,269.69v4.18M980.82,271.77v0.02M984.97,269.69v4.18M989.13,271.77v0.02M993.29,269.69v0.02M997.45,267.61v4.18M1001.60,269.69v0.02M1005.76,267.61v4.18M1009.92,269.69v0.02M1014.07,267.61v0.02M1018.23,265.53v4.18M1022.39,267.61v0.02M1026.55,265.53v4.18M1030.70,267.61v0.02M1034.86,265.53v0.02M1039.02,267.61v0.02M1043.17,265.53v0.02M1047.33,263.45v4.18M1051.49,265.53v0.02M1055.65,263.45v4.18M1059.80,265.53v0.02M1063.96,263.45v0.02M1068.12,261.37v4.18M1072.27,263.45v0.02M1076.43,261.37v4.18M1080.59,263.45v0.02M1084.75,261.37v0.02M1088.90,259.29v4.18M1093.06,261.37v0.02M1097.22,259.29v4.18M1101.37,261.37v0.02M1105.53,259.29v0.02M1109.69,257.21v4.18M1113.84,259.29v0.02M1118.00,257.21v4.18M1122.16,259.29v0.02M1126.32,257.21v4.18M1130.47,259.29v0.02M1134.63,257.21v0.02M1138.79,255.13v4.18M1142.94,257.21v0.02M1147.10,255.13v4.18M1151.26,257.21v0.02M1155.42,255.13v0.02M1159.57,253.05v4.18M1163.73,255.13v0.02M1167.89,253.05v4.18M1172.04,255.13v0.02M1176.20,253.05v0.02M1180.36,250.97v4.18M1184.52,253.05v0.02M1188.67,250.97v4.18M1192.83,253.05v0.02M1196.99,250.97v4.18M1201.14,253.05v0.02" fill="none" stroke="#006400" stroke-width="2.8" stroke-linecap="round" stroke-dasharray="0 4.1609"/>
<polyline points="169.4,166.9 354.0,220.5 452.8,265.0 547.4,301.0 733.6,294.0 871.2,281.4 1202.2,251.8" fill="none" stroke="#006400" stroke-width="1.45"/>
<path d="M170.18,157.35v20.82M174.34,159.43v20.82M178.50,161.51v20.82M182.65,163.59v20.82M186.81,165.67v20.82M190.97,167.75v20.82M195.13,169.83v20.82M199.28,171.91v20.82M203.44,173.99v16.66M207.60,171.91v20.82M211.75,173.99v20.82M215.91,176.07v20.82M220.07,178.15v20.82M224.23,180.23v20.82M228.38,182.31v20.82M232.54,184.39v20.82M236.70,186.47v16.66M240.85,188.55v16.66M245.01,190.63v16.66M249.17,192.71v16.66M253.33,190.63v20.82M257.48,192.71v20.82M261.64,194.79v20.82M265.80,196.88v20.82M269.95,198.96v20.82M274.11,201.04v16.66M278.27,203.12v16.66M282.42,205.20v16.66M286.58,207.28v16.66M290.74,209.36v16.66M294.90,207.28v20.82M299.05,209.36v20.82M303.21,211.44v20.82M307.37,213.52v16.66M311.52,215.60v16.66M315.68,217.68v16.66M319.84,219.76v16.66M324.00,221.84v16.66M328.15,223.92v16.66M332.31,226.00v16.66M336.47,223.92v20.82M340.62,226.00v20.82M344.78,228.08v16.66M348.94,230.16v16.66M353.10,232.24v16.66M357.25,234.32v16.66M361.41,240.56v16.66M365.57,242.65v16.66M369.72,244.73v16.66M373.88,250.97v12.50M378.04,253.05v16.66M382.20,255.13v16.66M386.35,261.37v12.50M390.51,263.45v16.66M394.67,265.53v16.66M398.82,271.77v12.50M402.98,273.85v12.50M407.14,275.93v16.66M411.30,282.17v12.50M415.45,284.25v12.50M419.61,290.50v8.34M423.77,292.58v12.50M427.92,294.66v12.50M432.08,300.90v8.34M436.24,302.98v12.50M440.39,305.06v12.50M444.55,311.30v8.34M448.71,313.38v8.34M452.87,315.46v12.50M457.02,321.70v8.34M461.18,323.78v12.50M465.34,330.02v8.34M469.49,332.10v12.50M473.65,338.35v8.34M477.81,340.43v12.50M481.97,346.67v8.34M486.12,348.75v12.50M490.28,354.99v8.34M494.44,357.07v12.50M498.59,363.31v8.34M502.75,365.39v12.50M506.91,367.47v12.50M511.07,373.71v12.50M515.22,375.79v12.50M519.38,382.04v12.50M523.54,384.12v12.50M527.69,390.36v12.50M531.85,392.44v12.50M536.01,398.68v12.50M540.17,400.76v16.66M544.32,407.00v12.50M548.48,409.08v12.50M552.64,411.16v12.50M556.79,413.24v12.50M560.95,415.32v12.50M565.11,417.40v12.50M569.26,415.32v16.66M573.42,417.40v16.66M577.58,419.48v16.66M581.74,421.56v16.66M585.89,423.64v16.66M590.05,425.72v16.66M594.21,427.81v16.66M598.36,429.89v16.66M602.52,427.81v20.82M606.68,429.89v20.82M610.84,431.97v20.82M614.99,434.05v16.66M619.15,436.13v16.66M623.31,438.21v16.66M627.46,440.29v16.66M631.62,438.21v20.82M635.78,440.29v20.82M639.94,442.37v20.82M644.09,444.45v20.82M648.25,446.53v20.82M652.41,448.61v20.82M656.56,450.69v20.82M660.72,452.77v20.82M664.88,450.69v24.99M669.04,452.77v24.99M673.19,454.85v24.99M677.35,456.93v24.99M681.51,459.01v20.82M685.66,461.09v20.82M689.82,463.17v20.82M693.98,461.09v24.99M698.13,463.17v24.99M702.29,465.25v24.99M706.45,467.33v24.99M710.61,469.41v24.99M714.76,471.49v24.99M718.92,473.58v24.99M723.08,475.66v24.99M727.23,473.58v29.15M731.39,475.66v29.15M735.55,477.74v24.99M739.71,475.66v24.99M743.86,473.58v29.15M748.02,471.49v29.15M752.18,469.41v29.15M756.33,467.33v29.15M760.49,465.25v29.15M764.65,463.17v29.15M768.81,465.25v29.15M772.96,463.17v29.15M777.12,461.09v29.15M781.28,459.01v29.15M785.43,456.93v29.15M789.59,454.85v29.15M793.75,452.77v33.31M797.91,450.69v33.31M802.06,448.61v33.31M806.22,446.53v33.31M810.38,444.45v33.31M814.53,442.37v33.31M818.69,444.45v33.31M822.85,442.37v33.31M827.00,440.29v33.31M831.16,438.21v33.31M835.32,436.13v33.31M839.48,434.05v37.47M843.63,431.97v37.47M847.79,429.89v37.47M851.95,427.81v37.47M856.10,425.72v37.47M860.26,423.64v37.47M864.42,425.72v37.47M868.58,423.64v37.47M872.73,421.56v37.47M876.89,419.48v37.47M881.05,417.40v41.63M885.20,419.48v37.47M889.36,417.40v37.47M893.52,415.32v37.47M897.68,413.24v41.63M901.83,415.32v37.47M905.99,413.24v37.47M910.15,411.16v41.63M914.30,409.08v41.63M918.46,411.16v37.47M922.62,409.08v41.63M926.78,407.00v41.63M930.93,404.92v41.63M935.09,407.00v41.63M939.25,404.92v41.63M943.40,402.84v41.63M947.56,400.76v45.79M951.72,402.84v41.63M955.88,400.76v41.63M960.03,398.68v45.79M964.19,396.60v45.79M968.35,398.68v41.63M972.50,396.60v41.63M976.66,394.52v45.79M980.82,392.44v45.79M984.97,394.52v41.63M989.13,392.44v45.79M993.29,390.36v45.79M997.45,388.28v45.79M1001.60,390.36v45.79M1005.76,388.28v45.79M1009.92,386.20v45.79M1014.07,384.12v49.95M1018.23,386.20v45.79M1022.39,384.12v45.79M1026.55,382.04v49.95M1030.70,379.96v49.95M1034.86,382.04v45.79M1039.02,379.96v45.79M1043.17,377.87v49.95M1047.33,375.79v49.95M1051.49,377.87v45.79M1055.65,375.79v49.95M1059.80,373.71v49.95M1063.96,371.63v49.95M1068.12,373.71v49.95M1072.27,371.63v49.95M1076.43,369.55v49.95M1080.59,371.63v49.95M1084.75,369.55v49.95M1088.90,367.47v49.95M1093.06,365.39v54.11M1097.22,367.47v49.95M1101.37,365.39v49.95M1105.53,363.31v54.11M1109.69,361.23v54.11M1113.84,363.31v49.95M1118.00,361.23v49.95M1122.16,359.15v54.11M1126.32,357.07v54.11M1130.47,359.15v49.95M1134.63,357.07v54.11M1138.79,354.99v54.11M1142.94,352.91v54.11M1147.10,354.99v54.11M1151.26,352.91v54.11M1155.42,350.83v54.11M1159.57,348.75v58.27M1163.73,350.83v54.11M1167.89,348.75v54.11M1172.04,346.67v58.27M1176.20,344.59v58.27M1180.36,346.67v54.11M1184.52,344.59v58.27M1188.67,342.51v58.27M1192.83,340.43v58.27M1196.99,342.51v54.11M1201.14,340.43v58.27" fill="none" stroke="#fff" stroke-width="2.9" stroke-linecap="round" stroke-dasharray="0 4.1609"/>
<path d="M170.18,157.35v20.82M174.34,159.43v20.82M178.50,161.51v20.82M182.65,163.59v20.82M186.81,165.67v20.82M190.97,167.75v20.82M195.13,169.83v20.82M199.28,171.91v20.82M203.44,173.99v16.66M207.60,171.91v20.82M211.75,173.99v20.82M215.91,176.07v20.82M220.07,178.15v20.82M224.23,180.23v20.82M228.38,182.31v20.82M232.54,184.39v20.82M236.70,186.47v16.66M240.85,188.55v16.66M245.01,190.63v16.66M249.17,192.71v16.66M253.33,190.63v20.82M257.48,192.71v20.82M261.64,194.79v20.82M265.80,196.88v20.82M269.95,198.96v20.82M274.11,201.04v16.66M278.27,203.12v16.66M282.42,205.20v16.66M286.58,207.28v16.66M290.74,209.36v16.66M294.90,207.28v20.82M299.05,209.36v20.82M303.21,211.44v20.82M307.37,213.52v16.66M311.52,215.60v16.66M315.68,217.68v16.66M319.84,219.76v16.66M324.00,221.84v16.66M328.15,223.92v16.66M332.31,226.00v16.66M336.47,223.92v20.82M340.62,226.00v20.82M344.78,228.08v16.66M348.94,230.16v16.66M353.10,232.24v16.66M357.25,234.32v16.66M361.41,240.56v16.66M365.57,242.65v16.66M369.72,244.73v16.66M373.88,250.97v12.50M378.04,253.05v16.66M382.20,255.13v16.66M386.35,261.37v12.50M390.51,263.45v16.66M394.67,265.53v16.66M398.82,271.77v12.50M402.98,273.85v12.50M407.14,275.93v16.66M411.30,282.17v12.50M415.45,284.25v12.50M419.61,290.50v8.34M423.77,292.58v12.50M427.92,294.66v12.50M432.08,300.90v8.34M436.24,302.98v12.50M440.39,305.06v12.50M444.55,311.30v8.34M448.71,313.38v8.34M452.87,315.46v12.50M457.02,321.70v8.34M461.18,323.78v12.50M465.34,330.02v8.34M469.49,332.10v12.50M473.65,338.35v8.34M477.81,340.43v12.50M481.97,346.67v8.34M486.12,348.75v12.50M490.28,354.99v8.34M494.44,357.07v12.50M498.59,363.31v8.34M502.75,365.39v12.50M506.91,367.47v12.50M511.07,373.71v12.50M515.22,375.79v12.50M519.38,382.04v12.50M523.54,384.12v12.50M527.69,390.36v12.50M531.85,392.44v12.50M536.01,398.68v12.50M540.17,400.76v16.66M544.32,407.00v12.50M548.48,409.08v12.50M552.64,411.16v12.50M556.79,413.24v12.50M560.95,415.32v12.50M565.11,417.40v12.50M569.26,415.32v16.66M573.42,417.40v16.66M577.58,419.48v16.66M581.74,421.56v16.66M585.89,423.64v16.66M590.05,425.72v16.66M594.21,427.81v16.66M598.36,429.89v16.66M602.52,427.81v20.82M606.68,429.89v20.82M610.84,431.97v20.82M614.99,434.05v16.66M619.15,436.13v16.66M623.31,438.21v16.66M627.46,440.29v16.66M631.62,438.21v20.82M635.78,440.29v20.82M639.94,442.37v20.82M644.09,444.45v20.82M648.25,446.53v20.82M652.41,448.61v20.82M656.56,450.69v20.82M660.72,452.77v20.82M664.88,450.69v24.99M669.04,452.77v24.99M673.19,454.85v24.99M677.35,456.93v24.99M681.51,459.01v20.82M685.66,461.09v20.82M689.82,463.17v20.82M693.98,461.09v24.99M698.13,463.17v24.99M702.29,465.25v24.99M706.45,467.33v24.99M710.61,469.41v24.99M714.76,471.49v24.99M718.92,473.58v24.99M723.08,475.66v24.99M727.23,473.58v29.15M731.39,475.66v29.15M735.55,477.74v24.99M739.71,475.66v24.99M743.86,473.58v29.15M748.02,471.49v29.15M752.18,469.41v29.15M756.33,467.33v29.15M760.49,465.25v29.15M764.65,463.17v29.15M768.81,465.25v29.15M772.96,463.17v29.15M777.12,461.09v29.15M781.28,459.01v29.15M785.43,456.93v29.15M789.59,454.85v29.15M793.75,452.77v33.31M797.91,450.69v33.31M802.06,448.61v33.31M806.22,446.53v33.31M810.38,444.45v33.31M814.53,442.37v33.31M818.69,444.45v33.31M822.85,442.37v33.31M827.00,440.29v33.31M831.16,438.21v33.31M835.32,436.13v33.31M839.48,434.05v37.47M843.63,431.97v37.47M847.79,429.89v37.47M851.95,427.81v37.47M856.10,425.72v37.47M860.26,423.64v37.47M864.42,425.72v37.47M868.58,423.64v37.47M872.73,421.56v37.47M876.89,419.48v37.47M881.05,417.40v41.63M885.20,419.48v37.47M889.36,417.40v37.47M893.52,415.32v37.47M897.68,413.24v41.63M901.83,415.32v37.47M905.99,413.24v37.47M910.15,411.16v41.63M914.30,409.08v41.63M918.46,411.16v37.47M922.62,409.08v41.63M926.78,407.00v41.63M930.93,404.92v41.63M935.09,407.00v41.63M939.25,404.92v41.63M943.40,402.84v41.63M947.56,400.76v45.79M951.72,402.84v41.63M955.88,400.76v41.63M960.03,398.68v45.79M964.19,396.60v45.79M968.35,398.68v41.63M972.50,396.60v41.63M976.66,394.52v45.79M980.82,392.44v45.79M984.97,394.52v41.63M989.13,392.44v45.79M993.29,390.36v45.79M997.45,388.28v45.79M1001.60,390.36v45.79M1005.76,388.28v45.79M1009.92,386.20v45.79M1014.07,384.12v49.95M1018.23,386.20v45.79M1022.39,384.12v45.79M1026.55,382.04v49.95M1030.70,379.96v49.95M1034.86,382.04v45.79M1039.02,379.96v45.79M1043.17,377.87v49.95M1047.33,375.79v49.95M1051.49,377.87v45.79M1055.65,375.79v49.95M1059.80,373.71v49.95M1063.96,371.63v49.95M1068.12,373.71v49.95M1072.27,371.63v49.95M1076.43,369.55v49.95M1080.59,371.63v49.95M1084.75,369.55v49.95M1088.90,367.47v49.95M1093.06,365.39v54.11M1097.22,367.47v49.95M1101.37,365.39v49.95M1105.53,363.31v54.11M1109.69,361.23v54.11M1113.84,363.31v49.95M1118.00,361.23v49.95M1122.16,359.15v54.11M1126.32,357.07v54.11M1130.47,359.15v49.95M1134.63,357.07v54.11M1138.79,354.99v54.11M1142.94,352.91v54.11M1147.10,354.99v54.11M1151.26,352.91v54.11M1155.42,350.83v54.11M1159.57,348.75v58.27M1163.73,350.83v54.11M1167.89,348.75v54.11M1172.04,346.67v58.27M1176.20,344.59v58.27M1180.36,346.67v54.11M1184.52,344.59v58.27M1188.67,342.51v58.27M1192.83,340.43v58.27M1196.99,342.51v54.11M1201.14,340.43v58.27" fill="none" stroke="#0000ff" stroke-width="2.4" stroke-linecap="round" stroke-dasharray="0 4.1609"/>
<path d="M170.18,165.67v4.18M174.34,167.75v4.18M178.50,169.83v0.02M182.65,171.91v0.02M186.81,173.99v0.02M190.97,176.07v0.02M195.13,173.99v4.18M199.28,176.07v4.18M203.44,178.15v4.18M207.60,180.23v4.18M211.75,182.31v4.18M215.91,184.39v0.02M220.07,186.47v0.02M224.23,188.55v0.02M228.38,190.63v0.02M232.54,192.71v0.02M236.70,190.63v4.18M240.85,192.71v4.18M245.01,194.79v4.18M249.17,196.88v4.18M253.33,198.96v0.02M257.48,201.04v0.02M261.64,203.12v0.02M265.80,205.20v0.02M269.95,207.28v0.02M274.11,205.20v4.18M278.27,207.28v4.18M282.42,209.36v4.18M286.58,211.44v4.18M290.74,213.52v4.18M294.90,215.60v0.02M299.05,217.68v0.02M303.21,219.76v0.02M307.37,221.84v0.02M311.52,219.76v4.18M315.68,221.84v4.18M319.84,223.92v4.18M324.00,226.00v4.18M328.15,228.08v4.18M332.31,230.16v0.02M336.47,232.24v0.02M340.62,234.32v0.02M344.78,236.40v0.02M348.94,238.48v0.02M353.10,236.40v4.18M357.25,238.48v4.18M361.41,244.73v4.18M365.57,246.81v4.18M369.72,248.89v4.18M373.88,255.13v0.02M378.04,257.21v4.18M382.20,259.29v4.18M386.35,265.53v0.02M390.51,267.61v4.18M394.67,269.69v4.18M398.82,275.93v0.02M402.98,278.01v4.18M407.14,280.09v4.18M411.30,282.17v4.18M415.45,288.42v4.18M419.61,290.50v4.18M423.77,292.58v4.18M427.92,298.82v4.18M432.08,300.90v4.18M436.24,302.98v4.18M440.39,309.22v0.02M444.55,311.30v4.18M448.71,313.38v4.18M452.87,319.62v0.02M457.02,321.70v4.18M461.18,327.94v0.02M465.34,330.02v4.18M469.49,336.27v0.02M473.65,338.35v4.18M477.81,340.43v4.18M481.97,346.67v4.18M486.12,348.75v4.18M490.28,354.99v4.18M494.44,357.07v4.18M498.59,363.31v4.18M502.75,365.39v4.18M506.91,371.63v4.18M511.07,373.71v4.18M515.22,379.96v4.18M519.38,382.04v4.18M523.54,388.28v4.18M527.69,390.36v4.18M531.85,396.60v4.18M536.01,398.68v4.18M540.17,404.92v4.18M544.32,407.00v4.18M548.48,413.24v4.18M552.64,415.32v0.02M556.79,417.40v0.02M560.95,419.48v0.02M565.11,421.56v0.02M569.26,423.64v0.02M573.42,421.56v4.18M577.58,423.64v4.18M581.74,425.72v4.18M585.89,427.81v4.18M590.05,429.89v4.18M594.21,431.97v4.18M598.36,434.05v0.02M602.52,436.13v0.02M606.68,438.21v0.02M610.84,440.29v0.02M614.99,442.37v0.02M619.15,440.29v4.18M623.31,442.37v4.18M627.46,444.45v4.18M631.62,446.53v4.18M635.78,448.61v4.18M639.94,450.69v0.02M644.09,452.77v0.02M648.25,454.85v0.02M652.41,456.93v0.02M656.56,459.01v0.02M660.72,456.93v4.18M664.88,459.01v4.18M669.04,461.09v4.18M673.19,463.17v4.18M677.35,465.25v4.18M681.51,467.33v0.02M685.66,469.41v0.02M689.82,471.49v0.02M693.98,473.58v0.02M698.13,475.66v0.02M702.29,473.58v4.18M706.45,475.66v4.18M710.61,477.74v4.18M714.76,479.82v4.18M718.92,481.90v4.18M723.08,483.98v0.02M727.23,486.06v0.02M731.39,488.14v0.02M735.55,486.06v4.18M739.71,483.98v4.18M743.86,486.06v0.02M748.02,483.98v0.02M752.18,481.90v0.02M756.33,479.82v0.02M760.49,477.74v4.18M764.65,475.66v4.18M768.81,473.58v4.18M772.96,471.49v4.18M777.12,473.58v0.02M781.28,471.49v0.02M785.43,469.41v0.02M789.59,467.33v0.02M793.75,465.25v4.18M797.91,463.17v4.18M802.06,461.09v4.18M806.22,463.17v0.02M810.38,461.09v0.02M814.53,459.01v0.02M818.69,456.93v0.02M822.85,454.85v4.18M827.00,452.77v4.18M831.16,450.69v4.18M835.32,448.61v4.18M839.48,450.69v0.02M843.63,448.61v0.02M847.79,446.53v0.02M851.95,444.45v0.02M856.10,442.37v4.18M860.26,440.29v4.18M864.42,438.21v4.18M868.58,436.13v4.18M872.73,438.21v0.02M876.89,436.13v0.02M881.05,434.05v4.18M885.20,431.97v4.18M889.36,434.05v0.02M893.52,431.97v0.02M897.68,429.89v4.18M901.83,431.97v0.02M905.99,429.89v0.02M910.15,427.81v4.18M914.30,425.72v4.18M918.46,427.81v0.02M922.62,425.72v0.02M926.78,423.64v4.18M930.93,425.72v0.02M935.09,423.64v0.02M939.25,421.56v4.18M943.40,419.48v4.18M947.56,421.56v0.02M951.72,419.48v0.02M955.88,417.40v4.18M960.03,419.48v0.02M964.19,417.40v0.02M968.35,415.32v4.18M972.50,413.24v4.18M976.66,415.32v0.02M980.82,413.24v0.02M984.97,411.16v4.18M989.13,413.24v0.02M993.29,411.16v0.02M997.45,409.08v4.18M1001.60,407.00v4.18M1005.76,409.08v0.02M1009.92,407.00v0.02M1014.07,404.92v4.18M1018.23,407.00v0.02M1022.39,404.92v0.02M1026.55,402.84v4.18M1030.70,400.76v4.18M1034.86,402.84v0.02M1039.02,400.76v0.02M1043.17,398.68v4.18M1047.33,400.76v0.02M1051.49,398.68v0.02M1055.65,396.60v4.18M1059.80,394.52v4.18M1063.96,396.60v0.02M1068.12,394.52v0.02M1072.27,392.44v4.18M1076.43,394.52v0.02M1080.59,392.44v0.02M1084.75,390.36v4.18M1088.90,388.28v4.18M1093.06,390.36v0.02M1097.22,388.28v0.02M1101.37,386.20v4.18M1105.53,388.28v0.02M1109.69,386.20v0.02M1113.84,384.12v4.18M1118.00,382.04v4.18M1122.16,384.12v0.02M1126.32,382.04v0.02M1130.47,379.96v4.18M1134.63,382.04v0.02M1138.79,379.96v0.02M1142.94,377.87v4.18M1147.10,375.79v4.18M1151.26,377.87v0.02M1155.42,375.79v0.02M1159.57,373.71v4.18M1163.73,375.79v0.02M1167.89,373.71v0.02M1172.04,371.63v4.18M1176.20,369.55v4.18M1180.36,371.63v0.02M1184.52,369.55v0.02M1188.67,367.47v4.18M1192.83,369.55v0.02M1196.99,367.47v0.02M1201.14,365.39v4.18" fill="none" stroke="#0000ff" stroke-width="2.8" stroke-linecap="round" stroke-dasharray="0 4.1609"/>
<polyline points="169.4,166.9 354.3,239.6 452.2,319.0 548.0,414.4 733.5,489.1 871.8,437.8 1202.4,366.6" fill="none" stroke="#0000ff" stroke-width="1.45"/>
</g>
<path d="M161.0,777.1h16.8M169.4,768.7v16.8M345.9,526.7h16.8M354.3,518.3v16.8M444.2,553.2h16.8M452.6,544.8v16.8M539.6,600.1h16.8M548.0,591.7v16.8M724.8,661.6h16.8M733.2,653.2v16.8M863.2,641.3h16.8M871.6,632.9v16.8M1194.0,624.1h16.8M1202.4,615.7v16.8" stroke="#ff0000" stroke-width="3.9" fill="none"/>
<path d="M161.0,166.9h16.8M169.4,158.5v16.8M345.6,220.5h16.8M354.0,212.1v16.8M444.4,265.0h16.8M452.8,256.6v16.8M539.0,301.0h16.8M547.4,292.6v16.8M725.2,294.0h16.8M733.6,285.6v16.8M862.8,281.4h16.8M871.2,273.0v16.8M1193.8,251.8h16.8M1202.2,243.4v16.8" stroke="#006400" stroke-width="3.9" fill="none"/>
<path d="M161.0,166.9h16.8M169.4,158.5v16.8M345.9,239.6h16.8M354.3,231.2v16.8M443.8,319.0h16.8M452.2,310.6v16.8M539.6,414.4h16.8M548.0,406.0v16.8M725.1,489.1h16.8M733.5,480.7v16.8M863.4,437.8h16.8M871.8,429.4v16.8M1194.0,366.6h16.8M1202.4,358.2v16.8" stroke="#0000ff" stroke-width="3.9" fill="none"/>

<g fill="#000" font-size="32">
<text x="190.8" y="840" text-anchor="middle">1</text>
<text x="373.3" y="840" text-anchor="middle">2</text>
<text x="558.8" y="840" text-anchor="middle">3</text>
<text x="744.3" y="840" text-anchor="middle">4</text>
<text x="929.8" y="840" text-anchor="middle">5</text>
<text x="1115.3" y="840" text-anchor="middle">6</text>
<text x="98.8" y="26.5" text-anchor="end">1.5</text>
<text x="98.8" y="180.6" text-anchor="end">1</text>
<text x="98.8" y="332.7" text-anchor="end">0.5</text>
<text x="98.8" y="484.8" text-anchor="end">0</text>
<text x="98.8" y="636.9" text-anchor="end">−0.5</text>
<text x="98.8" y="789.0" text-anchor="end">−1</text>
</g>
<text x="1266" y="873.4" text-anchor="end" font-size="33.3" fill="#000">Beam Range in PMMA (mm)</text>
<text transform="translate(27.2,15.2) rotate(-90)" text-anchor="end" font-size="33" fill="#000">Peak Ratio</text>
<!-- legend -->
<rect x="977" y="16.1" width="290.9000000000001" height="197.4" fill="#fff" stroke="#0a0a0a" stroke-width="2.25"/>
<text x="984.2" y="49.8" font-size="29" fill="#000">Marker Ratio</text>
<path d="M989.13,72.05v33.31M993.29,74.13v33.31M997.45,72.05v33.31M1001.60,74.13v33.31M1005.76,72.05v33.31M1009.92,74.13v33.31M1014.07,72.05v33.31M1018.23,74.13v33.31M1022.39,72.05v33.31M1026.55,74.13v33.31M1030.70,72.05v33.31M1034.86,74.13v33.31M1039.02,72.05v33.31" fill="none" stroke="#0000ff" stroke-width="2.4" stroke-linecap="round" stroke-dasharray="0 4.1609"/>
<rect x="986.5" y="72" width="53" height="36" fill="none" stroke="#0000ff" stroke-width="2"/>
<path d="M989.13,121.98v33.31M993.29,124.06v33.31M997.45,121.98v33.31M1001.60,124.06v33.31M1005.76,121.98v33.31M1009.92,124.06v33.31M1014.07,121.98v33.31M1018.23,124.06v33.31M1022.39,121.98v33.31M1026.55,124.06v33.31M1030.70,121.98v33.31M1034.86,124.06v33.31M1039.02,121.98v33.31" fill="none" stroke="#ff0000" stroke-width="2.4" stroke-linecap="round" stroke-dasharray="0 4.1609"/>
<rect x="986.5" y="121.7" width="53" height="36" fill="none" stroke="#ff0000" stroke-width="2"/>
<path d="M989.13,171.91v33.31M993.29,173.99v33.31M997.45,171.91v33.31M1001.60,173.99v33.31M1005.76,171.91v33.31M1009.92,173.99v33.31M1014.07,171.91v33.31M1018.23,173.99v33.31M1022.39,171.91v33.31M1026.55,173.99v33.31M1030.70,171.91v33.31M1034.86,173.99v33.31M1039.02,171.91v33.31" fill="none" stroke="#006400" stroke-width="2.4" stroke-linecap="round" stroke-dasharray="0 4.1609"/>
<rect x="986.5" y="171.4" width="53" height="36" fill="none" stroke="#006400" stroke-width="2"/>
<g fill="#000">
<text x="1053.6" y="97.6" font-size="37.5">R<tspan font-size="24.2" x="1080.2" y="105.1">Mo/Y</tspan></text>
<text x="1051.2" y="147.9" font-size="37.5">R<tspan font-size="24.2" x="1077.3" y="156.5">Mo/Zn</tspan></text>
<text x="1051.8" y="197.5" font-size="37.5">R<tspan font-size="24.2" x="1079" y="205.5">Zn/Y</tspan></text>
</g>
</g>
</svg>
</body></html>
